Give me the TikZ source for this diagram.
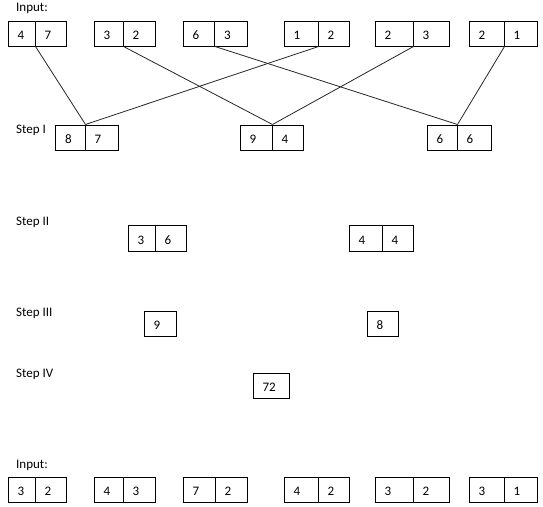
\documentclass[tikz,border=0pt]{standalone}
\usepackage{fontspec}
\setmainfont{Carlito}
\begin{document}
\begin{tikzpicture}[x=1pt,y=-1pt,
  cell/.style={draw, line width=1pt, anchor=north west, inner xsep=0pt, inner ysep=0pt,
    align=left, text height=12pt, text depth=0pt, font=\fontsize{13}{15}\selectfont,
    execute at begin node=\hspace*{9.5pt}},
  steplabel/.style={anchor=base west, inner sep=0pt, font=\fontsize{13}{15}\selectfont},
  link/.style={line width=0.8pt, draw=black!85}]
\useasboundingbox (0,0) rectangle (543,506);
\newcommand\duo[8]{%
  \pgfmathsetmacro\wa{#3-#2}\pgfmathsetmacro\wb{#4-#3}\pgfmathsetmacro\hh{#6-#5}%
  \node[cell, text width=\wa pt, minimum height=\hh pt] (#1a) at (#2,#5) {#7};
  \node[cell, text width=\wb pt, minimum height=\hh pt] (#1b) at (#3,#5) {#8};
}
\newcommand\uno[6]{%
  \pgfmathsetmacro\wa{#3-#2}\pgfmathsetmacro\hh{#5-#4}%
  \node[cell, text width=\wa pt, minimum height=\hh pt] (#1) at (#2,#4) {#6};
}
% labels
\node[steplabel] (lin) at (16,12) {Input:};
\node[steplabel] (l1) at (16,133) {Step I};
\node[steplabel] (l2) at (16,225) {Step II};
\node[steplabel] (l3) at (16,316) {Step III};
\node[steplabel] (l4) at (16,377.5) {Step IV};
\node[steplabel] (lin2) at (16,468) {Input:};
% top input
\duo{t1}{7.5}{34.5}{65.5}{20.5}{45.5}{4}{7}
\duo{t2}{93.5}{122.5}{154.5}{20.5}{45.5}{3}{2}
\duo{t3}{182.5}{214}{246.5}{20.5}{45.5}{6}{3}
\duo{t4}{283.5}{317.5}{348.5}{20.5}{45.5}{1}{2}
\duo{t5}{374.5}{412.5}{448.5}{20.5}{45.5}{2}{3}
\duo{t6}{468.5}{503.5}{537}{20.5}{45.5}{2}{1}
% step I
\duo{sa}{55}{84.5}{117.5}{124.5}{149.5}{8}{7}
\duo{sb}{239.5}{271.5}{302.5}{124.5}{149.5}{9}{4}
\duo{sc}{426.5}{456.5}{490.5}{124.5}{149.5}{6}{6}
% step II
\duo{ua}{127.5}{154.5}{185.5}{224.5}{250.5}{3}{6}
\duo{ub}{348.5}{381.5}{412.5}{224.5}{250.5}{4}{4}
% step III
\uno{va}{143.5}{175.5}{310.5}{335.5}{9}
\uno{vb}{366.5}{397.5}{310.5}{335.5}{8}
% step IV
\uno{w}{252.5}{288.5}{372.5}{397.5}{72}
% bottom input
\duo{b1}{7.5}{34.5}{65.5}{476.5}{501.5}{3}{2}
\duo{b2}{93.5}{122.5}{154.5}{476.5}{501.5}{4}{3}
\duo{b3}{182.5}{214.5}{246.5}{476.5}{501.5}{7}{2}
\duo{b4}{283.5}{317.5}{348.5}{476.5}{501.5}{4}{2}
\duo{b5}{374.5}{412.5}{448.5}{476.5}{501.5}{3}{2}
\duo{b6}{468.5}{503.5}{537}{476.5}{501.5}{3}{1}
% connectors
\draw[link] (t1a.south east) -- (saa.north east);
\draw[link] (t4a.south east) -- (saa.north east);
\draw[link] (t2a.south east) -- (sba.north east);
\draw[link] (t5a.south east) -- (sba.north east);
\draw[link] (t3a.south east) -- (sca.north east);
\draw[link] (t6a.south east) -- (sca.north east);
\end{tikzpicture}
\end{document}
